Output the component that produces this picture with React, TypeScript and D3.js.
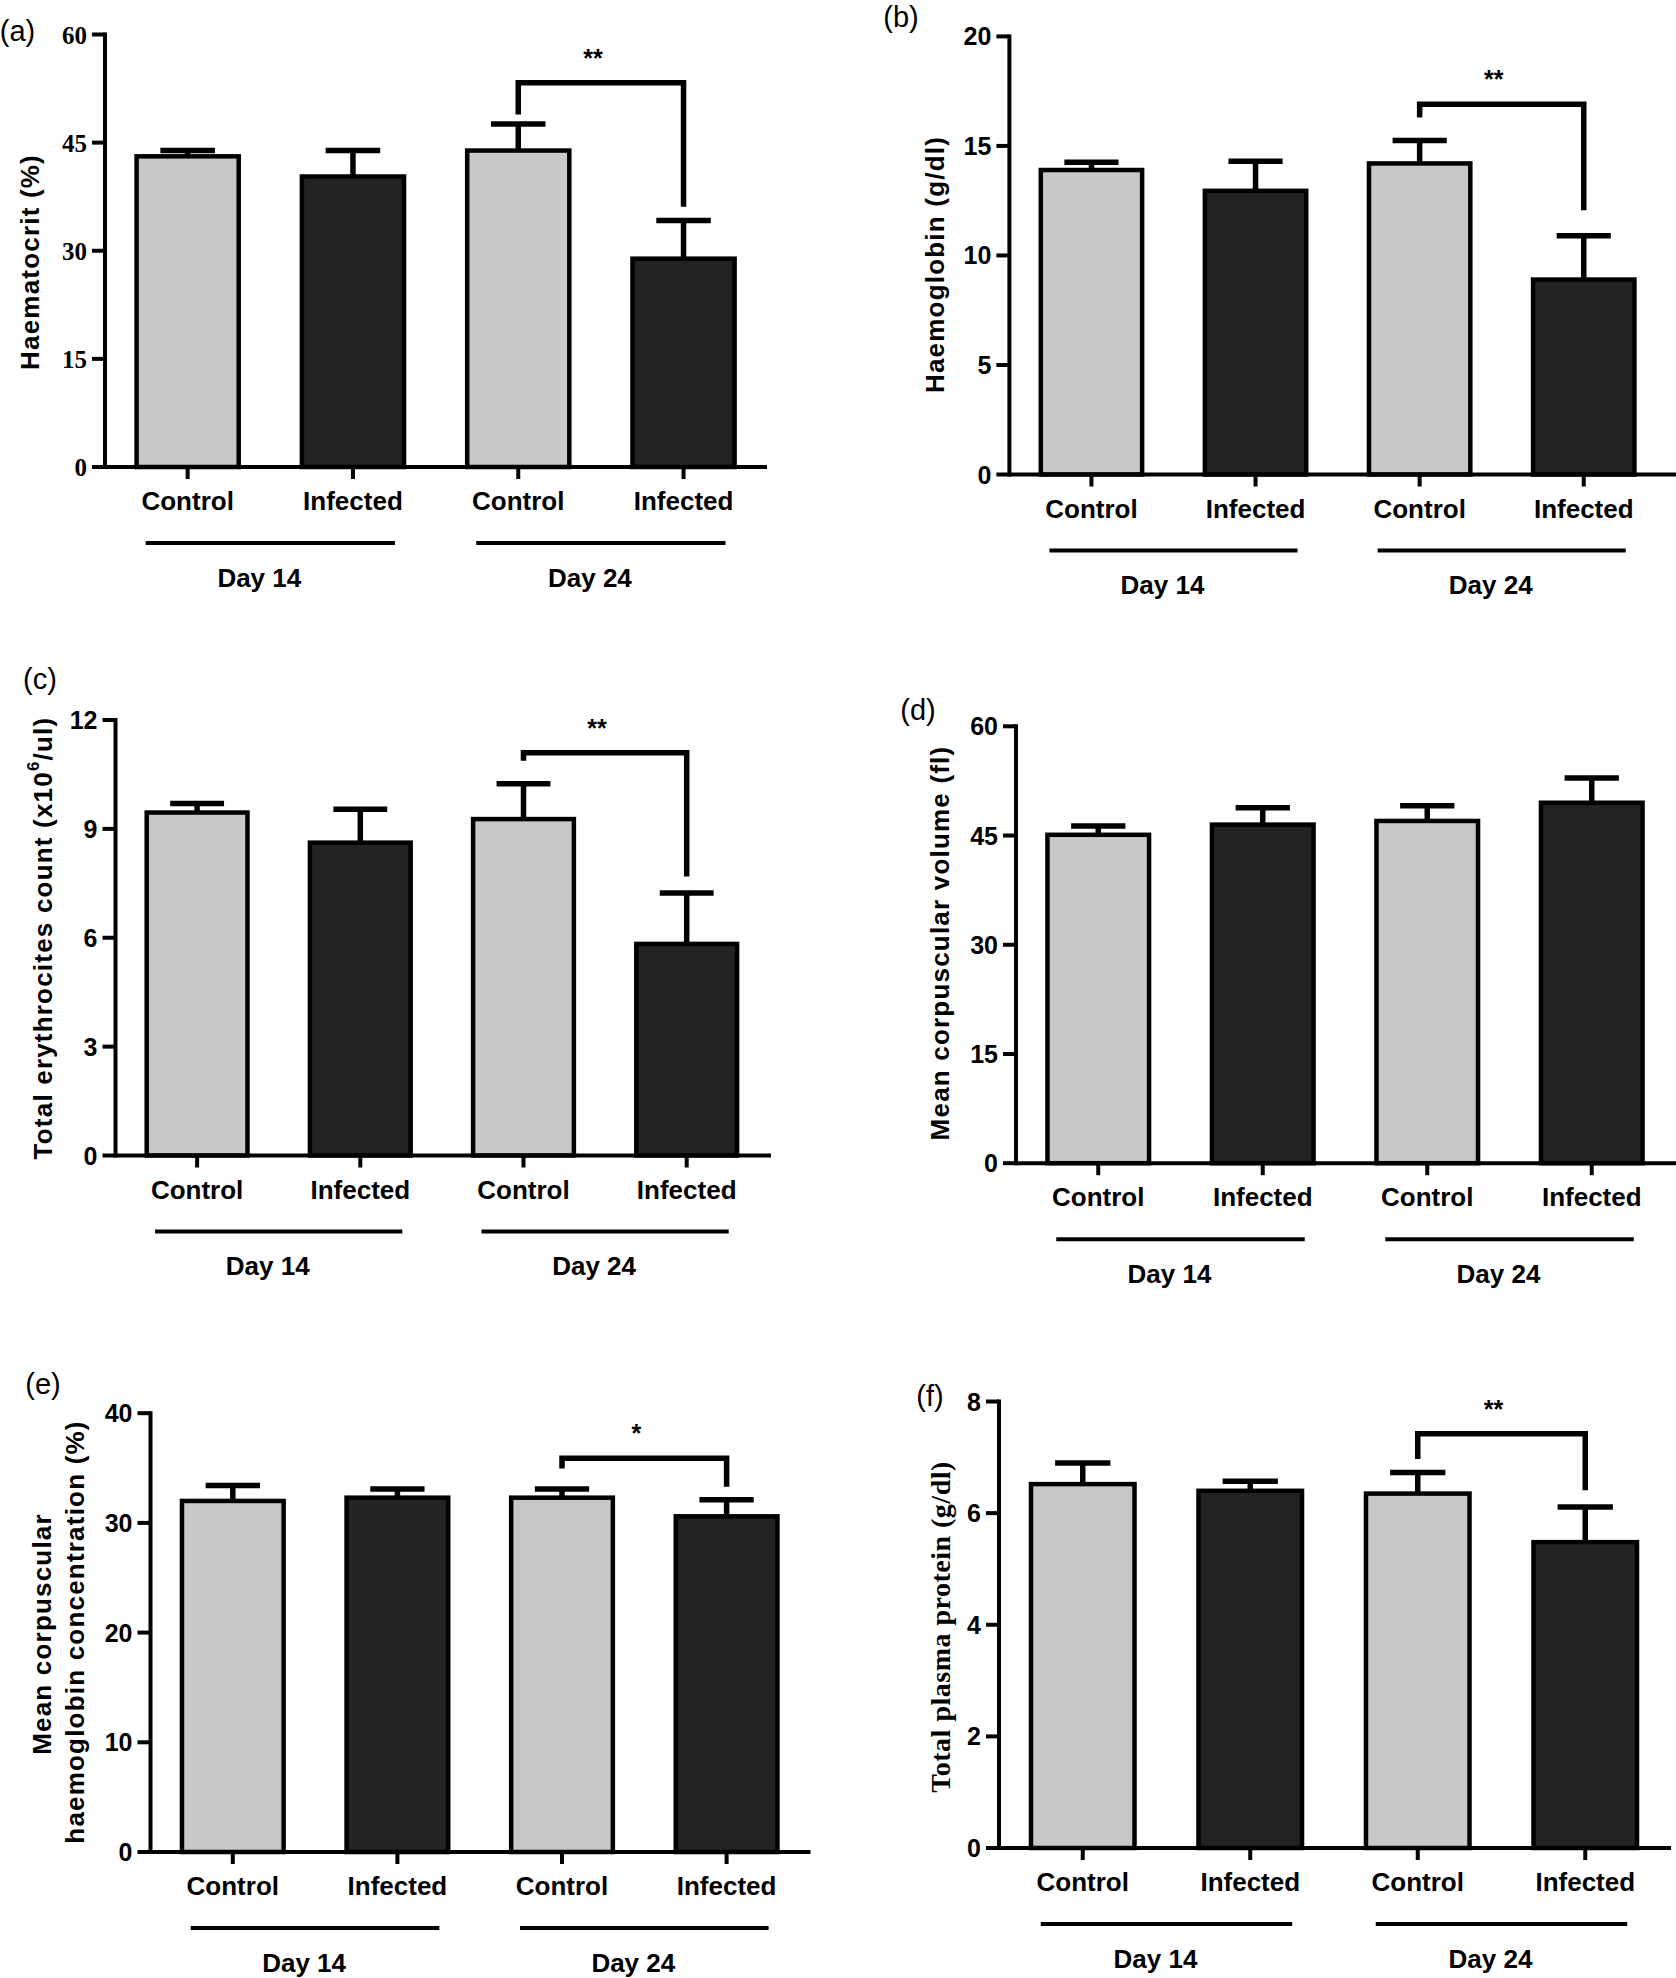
import { scaleBand, scaleLinear } from "d3";

// bar order: Day 14 control, Day 14 infected, Day 24 control, Day 24 infected
const barKeys = ["c14", "i14", "c24", "i24"];
const categories = ["Control", "Infected", "Control", "Infected"];
const groups = ["Day 14", "Day 24"];

// (a) haematocrit, %
const haematocrit = [43.1, 40.3, 43.9, 28.9];
const haematocritErr = [0.8, 3.6, 3.7, 5.3];
const haematocritTicks = [0, 15, 30, 45, 60];

// (b) haemoglobin, g/dl
const haemoglobin = [13.9, 12.95, 14.2, 8.9];
const haemoglobinErr = [0.35, 1.35, 1.05, 2.0];
const haemoglobinTicks = [0, 5, 10, 15, 20];

// (c) total erythrocytes, x10^6/ul
const erythrocytes = [9.45, 8.62, 9.27, 5.83];
const erythrocytesErr = [0.25, 0.92, 0.97, 1.4];
const erythrocytesTicks = [0, 3, 6, 9, 12];

// (d) MCV, fl
const mcv = [45.1, 46.5, 47.0, 49.5];
const mcvErr = [1.2, 2.3, 2.1, 3.4];
const mcvTicks = [0, 15, 30, 45, 60];

// (e) MCHC, %
const mchc = [32.0, 32.3, 32.3, 30.6];
const mchcErr = [1.4, 0.8, 0.8, 1.5];
const mchcTicks = [0, 10, 20, 30, 40];

// (f) total plasma protein, g/dl
const protein = [6.52, 6.4, 6.35, 5.48];
const proteinErr = [0.38, 0.17, 0.38, 0.63];
const proteinTicks = [0, 2, 4, 6, 8];

// significance brackets between the Day 24 bars: [top, left leg end, right leg end]
const bracketA = [53.3, 48.9, 36.1];
const bracketB = [16.9, 16.3, 12.06];
const bracketC = [11.1, 10.88, 7.69];
const bracketE = [35.9, 34.96, 33.3];
const bracketF = [7.42, 6.97, 6.41];

const SANS = "'Liberation Sans', Arial, sans-serif";
const SERIF = "'Liberation Serif', 'Times New Roman', serif";
const LIGHT = "#c8c8c8";
const DARK = "#232323";

interface Layout {
    axisX: number;
    axisEnd: number;
    top: number;
    bottom: number;
    step: number;
    tag: string;
    tagX: number;
    tagY: number;
}

interface PanelProps {
    layout: Layout;
    means: number[];
    errs: number[];
    ticks: number[];
    title: React.ReactNode;
    bracket?: number[];
    stars?: string;
    serifTicks?: boolean;
}

function Panel({ layout, means, errs, ticks, title, bracket, stars, serifTicks }: PanelProps) {
    const { axisX, axisEnd, top, bottom, step, tag, tagX, tagY } = layout;
    const x = scaleBand()
        .domain(barKeys)
        .range([axisX, axisX + 4 * step])
        .padding(0);
    const y = scaleLinear()
        .domain([0, ticks[ticks.length - 1]])
        .range([bottom, top]);
    const cx = (k: string) => (x(k) ?? 0) + x.bandwidth() / 2;
    const barW = x.step() * 0.645 - 4.5;
    const capW = x.step() * 0.33;

    return (
        <g>
            <text x={tagX} y={tagY} fontFamily={SANS} fontSize={29} textAnchor="middle">
                {tag}
            </text>
            {title}
            {/* bars */}
            {means.map((m, i) => (
                <rect
                    key={`bar-${i}`}
                    x={cx(barKeys[i]) - barW / 2}
                    y={y(m)}
                    width={barW}
                    height={y(0) - y(m)}
                    fill={i % 2 === 0 ? LIGHT : DARK}
                    stroke="#000"
                    strokeWidth={4.5}
                />
            ))}
            {/* error bars */}
            {means.map((m, i) => (
                <g key={`err-${i}`} stroke="#000" strokeWidth={5.5}>
                    <line x1={cx(barKeys[i])} x2={cx(barKeys[i])} y1={y(m)} y2={y(m + errs[i])} />
                    <line
                        x1={cx(barKeys[i]) - capW / 2}
                        x2={cx(barKeys[i]) + capW / 2}
                        y1={y(m + errs[i])}
                        y2={y(m + errs[i])}
                    />
                </g>
            ))}
            {/* axes */}
            <line x1={axisX} x2={axisX} y1={top} y2={bottom} stroke="#000" strokeWidth={4} strokeLinecap="square" />
            <line x1={axisX} x2={axisEnd} y1={bottom} y2={bottom} stroke="#000" strokeWidth={4} />
            {ticks.map((t) => (
                <g key={`yt-${t}`}>
                    <line x1={axisX - 13} x2={axisX} y1={y(t)} y2={y(t)} stroke="#000" strokeWidth={4} />
                    <text
                        x={axisX - 18}
                        y={y(t) + 9}
                        textAnchor="end"
                        fontFamily={serifTicks ? SERIF : SANS}
                        fontWeight="bold"
                        fontSize={25}
                    >
                        {t}
                    </text>
                </g>
            ))}
            {barKeys.map((k, i) => (
                <g key={`xt-${k}`}>
                    <line x1={cx(k)} x2={cx(k)} y1={bottom} y2={bottom + 12} stroke="#000" strokeWidth={4} />
                    <text
                        x={cx(k)}
                        y={bottom + 43}
                        textAnchor="middle"
                        fontFamily={SANS}
                        fontWeight="bold"
                        fontSize={26}
                    >
                        {categories[i]}
                    </text>
                </g>
            ))}
            {/* day groups */}
            {groups.map((g, gi) => {
                const x1 = cx(barKeys[gi * 2]) - 42;
                const x2 = cx(barKeys[gi * 2 + 1]) + 42;
                return (
                    <g key={`grp-${g}`}>
                        <line x1={x1} x2={x2} y1={bottom + 76} y2={bottom + 76} stroke="#000" strokeWidth={4} />
                        <text
                            x={(x1 + x2) / 2 - 11}
                            y={bottom + 119.5}
                            textAnchor="middle"
                            fontFamily={SANS}
                            fontWeight="bold"
                            fontSize={26}
                        >
                            {g}
                        </text>
                    </g>
                );
            })}
            {/* significance */}
            {bracket && (
                <g>
                    <path
                        d={`M${cx("c24")},${y(bracket[1])}V${y(bracket[0])}H${cx("i24")}V${y(bracket[2])}`}
                        fill="none"
                        stroke="#000"
                        strokeWidth={5.5}
                    />
                    <text
                        x={(cx("c24") + cx("i24")) / 2 - 8}
                        y={y(bracket[0]) - 30 + 14}
                        textAnchor="middle"
                        fontFamily={SANS}
                        fontWeight="bold"
                        fontSize={25}
                    >
                        {stars}
                    </text>
                </g>
            )}
        </g>
    );
}

function YTitle({ cx, cy, children, serif }: { cx: number; cy: number; children: React.ReactNode; serif?: boolean }) {
    return (
        <text
            transform={`translate(${cx},${cy}) rotate(-90)`}
            textAnchor="middle"
            dominantBaseline="central"
            fontFamily={serif ? SERIF : SANS}
            fontWeight="bold"
            fontSize={serif ? 28 : 26}
            letterSpacing={serif ? 0.5 : 1.2}
        >
            {children}
        </text>
    );
}

export default function App() {
    return (
        <svg width={1676} height={1978} style={{ position: "absolute", left: 0, top: 0 }}>
            <rect width={1676} height={1978} fill="#fff" />
            <Panel
                layout={{ axisX: 105, axisEnd: 767, top: 34.5, bottom: 467, step: 165.3, tag: "(a)", tagX: 17.5, tagY: 40.5 }}
                means={haematocrit}
                errs={haematocritErr}
                ticks={haematocritTicks}
                bracket={bracketA}
                stars="**"
                serifTicks
                title={<YTitle cx={30} cy={262}>Haematocrit (%)</YTitle>}
            />
            <Panel
                layout={{ axisX: 1009.4, axisEnd: 1676, top: 36.4, bottom: 474.5, step: 164.1, tag: "(b)", tagX: 901, tagY: 27 }}
                means={haemoglobin}
                errs={haemoglobinErr}
                ticks={haemoglobinTicks}
                bracket={bracketB}
                stars="**"
                title={<YTitle cx={934.5} cy={264.5}>Haemoglobin (g/dl)</YTitle>}
            />
            <Panel
                layout={{ axisX: 115.5, axisEnd: 771, top: 720, bottom: 1155.5, step: 163.2, tag: "(c)", tagX: 40, tagY: 689 }}
                means={erythrocytes}
                errs={erythrocytesErr}
                ticks={erythrocytesTicks}
                bracket={bracketC}
                stars="**"
                title={
                    <YTitle cx={42.5} cy={938}>
                        Total erythrocites count (x10
                        <tspan baselineShift="super" fontSize={17}>6</tspan>
                        /ul)
                    </YTitle>
                }
            />
            <Panel
                layout={{ axisX: 1016, axisEnd: 1676, top: 726.3, bottom: 1163.2, step: 164.5, tag: "(d)", tagX: 918, tagY: 719.5 }}
                means={mcv}
                errs={mcvErr}
                ticks={mcvTicks}
                title={<YTitle cx={940} cy={943}>Mean corpuscular volume (fl)</YTitle>}
            />
            <Panel
                layout={{ axisX: 150.5, axisEnd: 810.5, top: 1413.2, bottom: 1852, step: 164.6, tag: "(e)", tagX: 43, tagY: 1393.5 }}
                means={mchc}
                errs={mchcErr}
                ticks={mchcTicks}
                bracket={bracketE}
                stars="*"
                title={
                    <g>
                        <YTitle cx={42} cy={1634}>Mean corpuscular</YTitle>
                        <YTitle cx={75} cy={1632}>haemoglobin concentration (%)</YTitle>
                    </g>
                }
            />
            <Panel
                layout={{ axisX: 999, axisEnd: 1671, top: 1401.5, bottom: 1848, step: 167.5, tag: "(f)", tagX: 930, tagY: 1405.5 }}
                means={protein}
                errs={proteinErr}
                ticks={proteinTicks}
                bracket={bracketF}
                stars="**"
                title={
                    <YTitle cx={940} cy={1627} serif>
                        Total plasma protein (g/dl)
                    </YTitle>
                }
            />
        </svg>
    );
}
